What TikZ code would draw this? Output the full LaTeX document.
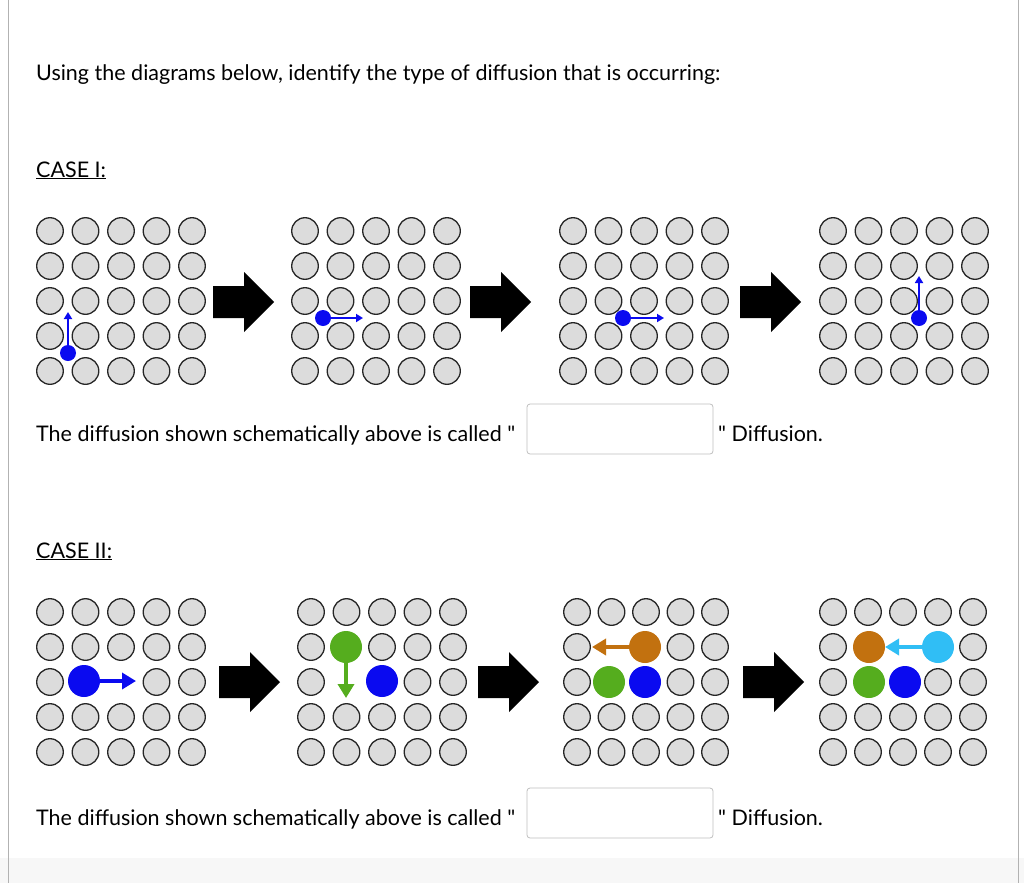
\documentclass[tikz,border=0pt]{standalone}
\usepackage{fontspec}
\setmainfont{Lato}[Ligatures=TeXOff]
\usetikzlibrary{arrows.meta}
\definecolor{cg}{HTML}{DCDCDC}
\definecolor{dblue}{HTML}{0A0AF0}
\definecolor{dgreen}{HTML}{55AD1E}
\definecolor{dorange}{HTML}{C2710F}
\definecolor{dcyan}{HTML}{30BEF5}
\tikzset{
 cc/.style={draw=black!85,fill=cg,line width=1.3pt},
 txt/.style={anchor=base west,font=\fontsize{21.5}{25}\selectfont,inner sep=0pt},
 ansbox/.style={draw=black!25,rounded corners=3pt,line width=0.8pt},
 thin/.style={line width=2pt,-{Triangle[length=7pt,width=8pt]}},
 fat/.style={line width=4.5pt,-{Triangle[length=14pt,width=16pt]}}
}
\newcommand{\grd}[4]{\foreach \i in {0,...,4}{\foreach \j in {0,...,4}{\draw[cc] ({#1+\i*#3},{-(#2+\j*#4)}) circle (13.3);}}}
\newcommand{\erase}[2]{\fill[white] (#1,-#2) circle (15.2);}
\newcommand{\barrow}[2]{\fill[black] (#1,{-(#2-16)}) -- ++(31,0) -- ++(0,14) -- ++(30,-30) -- ++(-30,-30) -- ++(0,14) -- ++(-31,0) -- cycle;}
\newcommand{\qq}{\symbol{34}}
\begin{document}
\begin{tikzpicture}[x=1pt,y=1pt]
\useasboundingbox (0,0) rectangle (1024,-883);
\fill[black!3] (0,-858) rectangle (1024,-883);
\draw[black!30,line width=0.8pt] (8,0) -- (8,-883) (1018,0) -- (1018,-883);
\node[txt] (q) at (36,-80) {Using the diagrams below, identify the type of diffusion that is occurring:};
\node[txt] (c1) at (36,-177) {\underline{CASE I:}};
% Case I
\grd{50}{231}{35.5}{35}
\grd{305}{231}{35.5}{35}
\grd{573}{231}{35.5}{35}
\grd{833}{231}{35.5}{35}
\barrow{213}{302}
\barrow{470}{302}
\barrow{740}{302}
\fill[dblue] (68,-353) circle (8);
\draw[dblue,thin] (68,-353) -- (68,-312);
\fill[dblue] (323,-318) circle (8);
\draw[dblue,thin] (323,-318) -- (363,-318);
\fill[dblue] (623,-318) circle (8);
\draw[dblue,thin] (623,-318) -- (664,-318);
\fill[dblue] (919,-318) circle (8);
\draw[dblue,thin] (919,-318) -- (919,-276);
\node[txt] (t1) at (36,-441) {The diffusion shown schematically above is called \qq};
\draw[ansbox] (527,-404) rectangle (713,-454);
\node[txt] (d1) at (718,-441) {\qq\ Diffusion.};
% Case II
\node[txt] (c2) at (36,-558) {\underline{CASE II:}};
\grd{50}{612}{35.5}{35}
\grd{311}{612}{35.5}{35}
\grd{577}{612}{34.5}{35}
\grd{833}{612}{35}{35}
\barrow{219}{682}
\barrow{478}{682}
\barrow{743}{682}
% grid1
\erase{85.5}{682}\erase{121}{682}
\fill[dblue] (84,-681) circle (16);
\draw[dblue,fat] (84,-681) -- (136,-681);
% grid2
\erase{346.5}{647}\erase{346.5}{682}\erase{382}{682}
\fill[dgreen] (346,-647) circle (16);
\draw[dgreen,fat] (346,-647) -- (346,-698);
\fill[dblue] (382,-681) circle (16);
% grid3
\erase{611.5}{647}\erase{646}{647}\erase{611.5}{682}\erase{646}{682}
\fill[dorange] (645,-647) circle (16);
\draw[dorange,fat] (645,-647) -- (592,-647);
\fill[dgreen] (609,-682) circle (16);
\fill[dblue] (645,-682) circle (16);
% grid4
\erase{868}{647}\erase{903}{647}\erase{938}{647}\erase{868}{682}\erase{903}{682}
\fill[dorange] (869,-647) circle (16);
\fill[dcyan] (938,-647) circle (16);
\draw[dcyan,fat] (938,-647) -- (885,-647);
\fill[dgreen] (869,-682) circle (16);
\fill[dblue] (905,-682) circle (16);
\node[txt] (t2) at (36,-825) {The diffusion shown schematically above is called \qq};
\draw[ansbox] (527,-788) rectangle (713,-838);
\node[txt] (d2) at (718,-825) {\qq\ Diffusion.};
\end{tikzpicture}
\end{document}
